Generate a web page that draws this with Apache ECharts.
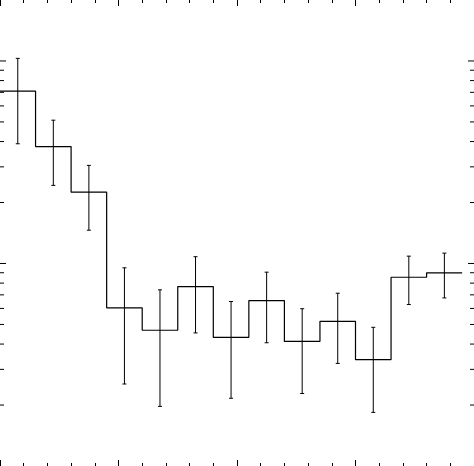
<!DOCTYPE html><html><head><meta charset="utf-8"><script src="https://cdn.jsdelivr.net/npm/echarts@6/dist/echarts.min.js"></script></head><body style="margin:0"><div id="c" style="width:474px;height:466px"></div><script>
var binEdges=[0,0.3,0.6,0.9,1.2,1.5,1.8,2.1,2.4,2.7,3.0,3.3,3.6,3.9];
var values=[0.71,0.378,0.225,0.0604,0.0468,0.0769,0.0432,0.0656,0.0412,0.0518,0.0335,0.0855,0.0899];
var errHigh=[1.03,0.51,0.305,0.0952,0.0741,0.108,0.0649,0.0906,0.0598,0.0713,0.0484,0.1087,0.1125];
var errLow=[0.39,0.243,0.146,0.0254,0.0197,0.0454,0.0216,0.0406,0.0228,0.0321,0.0184,0.0627,0.0676];
var yMajorTicks=[0.1,1];
var yMinorTicks=[0.02,0.03,0.04,0.05,0.06,0.07,0.08,0.09,0.2,0.3,0.4,0.5,0.6,0.7,0.8,0.9];
var stepData=binEdges.map(function(e,i){return [e,values[Math.min(i,values.length-1)]];});
var errData=values.map(function(v,i){return [(binEdges[i]+binEdges[i+1])/2,errLow[i],errHigh[i]];});
var ticks=yMajorTicks.map(function(v){return [v,6];}).concat(yMinorTicks.map(function(v){return [v,4];}));
var st={stroke:'#000',lineWidth:1};
var xa=function(pos){return {type:'value',position:pos,min:0,max:4,interval:1,axisLine:{show:false},axisLabel:{show:false},splitLine:{show:false},
 axisTick:{inside:true,length:6,lineStyle:{color:'#000'}},minorTick:{show:true,splitNumber:5,length:3,lineStyle:{color:'#000'}}};};
var ch=echarts.init(document.getElementById('c'));
ch.setOption({animation:false,grid:{left:0,right:0,top:0,bottom:0},
 xAxis:[xa('bottom'),xa('top')],
 yAxis:{type:'log',logBase:10,min:0.01,max:2,axisLine:{show:false},axisLabel:{show:false},axisTick:{show:false},splitLine:{show:false}},
 series:[
 {type:'line',step:'end',data:stepData,symbol:'none',lineStyle:{color:'#000',width:1.2}},
 {type:'custom',data:errData,renderItem:function(p,api){var x=api.value(0);var a=api.coord([x,api.value(1)]),b=api.coord([x,api.value(2)]);
  return {type:'group',children:[{type:'line',shape:{x1:a[0],y1:a[1],x2:b[0],y2:b[1]},style:st},
  {type:'line',shape:{x1:a[0]-2,y1:a[1],x2:a[0]+2,y2:a[1]},style:st},{type:'line',shape:{x1:b[0]-2,y1:b[1],x2:b[0]+2,y2:b[1]},style:st}]};}},
 {type:'custom',data:ticks,encode:{y:0},renderItem:function(p,api){var v=api.value(0),L=api.value(1);var a=api.coord([0,v]),b=api.coord([4,v]);
  return {type:'group',children:[{type:'line',shape:{x1:a[0],y1:a[1],x2:a[0]+L,y2:a[1]},style:st},{type:'line',shape:{x1:b[0],y1:b[1],x2:b[0]-L,y2:b[1]},style:st}]};}}
 ]});
</script></body></html>
